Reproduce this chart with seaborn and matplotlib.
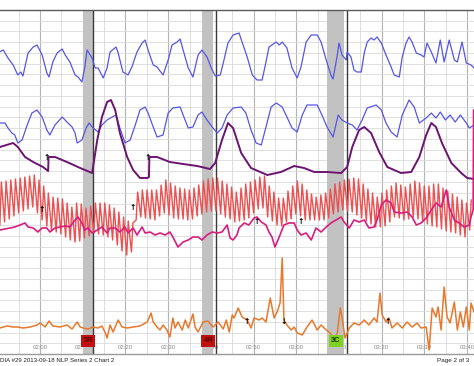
import numpy as np
import pandas as pd
import matplotlib
matplotlib.use("Agg")
import matplotlib.pyplot as plt
from matplotlib.ticker import MultipleLocator, FuncFormatter
import seaborn as sns

plt.rcParams['font.family'] = ['Liberation Sans', 'DejaVu Sans']

# ---------------- data (time in s, channel level in chart units, top = 10, bottom = 354) -------------
pneumo_up_t = [110.6, 111.4, 112.5, 113.7, 114.8, 115.5, 116.0, 117.2, 118.4, 119.3, 120.5, 121.6, 122.1, 123.0,
               124.0, 125.2, 125.9, 127.0, 128.2, 128.9, 129.8, 130.5, 131.0, 132.2, 132.9, 133.6, 134.8, 135.7,
               136.4, 137.8, 138.3, 139.4, 140.6, 141.5, 142.7, 143.9, 144.6, 145.3, 146.5, 147.4, 148.8, 150.0,
               150.9, 152.1, 152.8, 153.5, 154.7, 155.8, 157.0, 157.9, 159.1, 160.0, 161.0, 162.2, 162.9, 164.0,
               165.2, 166.6, 167.3, 168.5, 169.7, 170.8, 172.0, 172.9, 173.6, 175.3, 176.0, 176.7, 177.8, 179.0,
               180.2, 181.1, 182.3, 183.5, 184.9, 185.8, 187.0, 188.1, 188.6, 189.6, 190.0, 190.7, 191.7, 191.9,
               192.8, 193.5, 194.2, 195.2, 195.9, 196.6, 197.5, 198.2, 198.9, 199.9, 201.0, 202.2, 202.9, 204.1,
               204.8, 205.7, 206.4, 207.1, 208.1, 209.2, 209.9, 210.6, 211.6, 212.7, 213.7, 214.6, 215.8, 217.0,
               217.7, 218.8, 219.8, 220.9, 221.6]
pneumo_up_v = [51.7, 50, 58, 65, 75, 72, 76, 53, 47, 45, 55, 73, 77, 62,
               53, 49, 55, 62, 75, 77, 82, 67, 50, 58, 68, 68, 78, 68,
               52, 47, 53, 72, 75, 67, 52, 43, 40, 50, 65, 67, 75, 60,
               45, 42, 39, 50, 68, 77, 55, 50, 57, 67, 76, 75, 63, 43,
               35, 33, 42, 57, 75, 80, 80, 62, 47, 42, 45, 42, 48, 68,
               78, 67, 42, 35, 35, 42, 60, 75, 79, 55, 43, 55, 60, 52,
               57, 70, 72, 72, 53, 42, 38, 40, 37, 43, 55, 67, 75, 77,
               57, 43, 37, 42, 53, 55, 57, 43, 52, 63, 40, 62, 40, 60,
               62, 42, 63, 65, 68]

pneumo_lo_t = [110.6, 111.8, 112.5, 113.4, 114.1, 114.8, 115.8, 117.0, 118.1, 119.3, 120.5, 121.6, 122.3, 123.5,
               125.2, 126.3, 127.5, 128.2, 128.7, 129.8, 130.8, 131.5, 132.4, 133.6, 134.5, 135.7, 136.9, 137.8,
               138.7, 139.9, 141.1, 142.3, 143.4, 144.6, 145.3, 146.5, 147.4, 148.8, 150.0, 151.1, 152.8, 153.5,
               154.7, 155.8, 157.0, 157.9, 159.1, 160.3, 161.5, 162.6, 163.8, 165.2, 167.1, 168.2, 169.4, 170.6,
               171.8, 172.9, 174.1, 175.3, 176.7, 177.8, 179.0, 180.2, 181.4, 182.5, 184.9, 186.0, 187.2, 188.6,
               189.8, 190.7, 191.9, 193.1, 194.2, 195.4, 196.6, 198.7, 199.9, 201.0, 202.2, 203.6, 204.8, 206.4,
               207.6, 208.8, 210.4, 211.6, 212.7, 213.7, 214.9, 216.0, 217.2, 218.4, 219.8, 220.5, 221.6]
pneumo_lo_v = [123, 123, 128, 133, 135, 143, 140, 125, 113, 110, 117, 130, 135, 125,
               117, 122, 127, 133, 143, 140, 128, 123, 128, 132, 125, 120, 117, 115,
               128, 143, 140, 125, 110, 107, 113, 127, 137, 135, 113, 108, 107, 115,
               128, 127, 115, 112, 120, 127, 133, 128, 115, 108, 107, 113, 130, 143,
               145, 127, 107, 103, 107, 117, 128, 132, 115, 105, 105, 115, 127, 137,
               115, 120, 123, 125, 130, 120, 108, 105, 110, 123, 132, 137, 115, 100,
               107, 123, 118, 113, 118, 112, 120, 115, 122, 115, 123, 128, 125]

eda_t = [110.6, 113.7, 114.8, 116.5, 118.4, 120.7, 121.9, 122.0, 123.5, 126.3, 129.4, 132.2, 133.4, 134.5,
         135.7, 136.6, 137.6, 138.7, 140.4, 141.8, 143.4, 145.1, 145.5, 145.6, 147.4, 150.4, 153.5, 156.8,
         159.8, 161.0, 162.6, 164.0, 165.2, 167.1, 169.4, 173.2, 176.4, 179.5, 181.8, 184.2, 187.2, 190.5,
         191.9, 193.1, 194.7, 195.9, 197.5, 199.4, 201.3, 204.5, 206.9, 208.8, 210.4, 211.6, 212.7, 214.1,
         216.3, 218.6, 220.0, 221.6]
eda_v = [147, 143, 147, 157, 162, 167, 171, 157, 157, 162, 168, 173, 140, 117,
         102, 100, 110, 133, 157, 170, 178, 178, 177, 157, 157, 162, 164, 166,
         169, 163, 140, 123, 128, 153, 168, 175, 172, 166, 168, 172, 172, 173,
         167, 147, 130, 127, 133, 152, 167, 173, 172, 157, 135, 123, 127, 143,
         163, 173, 178, 179]

# cardio: one diastolic / systolic pair per beat
beat_start = 110.6
beat_period = 1.1
cardio_sys = [182, 181, 180, 179, 178, 177, 176, 175, 180, 186, 193, 197, 198, 199, 203, 207, 203, 204, 208, 206,
              203, 203, 203, 205, 208, 212, 217, 221, 223, 192, 190, 190, 190, 190, 185, 180, 183, 186, 188, 189,
              190, 188, 185, 181, 179, 178, 178, 181, 184, 187, 192, 188, 184, 182, 180, 177, 176, 186, 192, 198,
              198, 191, 186, 181, 184, 190, 194, 197, 195, 193, 189, 184, 182, 180, 179, 178, 179, 184, 189, 193,
              197, 193, 190, 186, 183, 185, 187, 184, 181, 183, 186, 186, 184, 184, 188, 191, 194, 197, 200, 203, 200]
cardio_dia = [225, 222, 219, 216, 213, 211, 209, 207, 213, 220, 226, 231, 232, 234, 237, 240, 242, 241, 238, 236,
              233, 234, 235, 237, 240, 245, 251, 255, 252, 220, 217, 218, 219, 220, 216, 213, 215, 218, 219, 219,
              220, 219, 216, 214, 212, 211, 211, 214, 217, 219, 222, 221, 220, 218, 213, 209, 208, 217, 221, 225,
              226, 222, 219, 214, 216, 220, 220, 220, 220, 220, 218, 214, 212, 210, 211, 212, 215, 218, 221, 224,
              227, 227, 226, 222, 217, 218, 220, 219, 217, 219, 222, 224, 226, 227, 229, 231, 232, 233, 235, 237, 230]

pink_t = [110.6, 111.8, 113.0, 114.1, 115.3, 116.5, 117.2, 118.4, 119.5, 120.5, 121.6, 122.3, 123.5, 124.7,
          125.9, 127.0, 128.2, 128.9, 129.8, 130.5, 131.2, 132.2, 133.4, 134.5, 135.7, 136.4, 137.6, 138.7,
          139.9, 140.6, 141.8, 142.7, 143.9, 144.6, 145.8, 146.9, 148.1, 149.3, 150.4, 151.1, 152.3, 153.5,
          154.7, 155.8, 157.0, 157.9, 159.1, 160.3, 161.5, 162.6, 163.8, 164.5, 165.2, 166.1, 166.6, 167.8,
          168.9, 170.1, 170.8, 171.8, 172.9, 173.6, 174.3, 175.0, 176.0, 177.1, 178.3, 179.5, 180.2, 181.1,
          182.3, 183.5, 184.6, 185.8, 187.0, 188.1, 189.3, 190.5, 191.2, 192.4, 193.5, 194.7, 195.9, 197.0,
          198.2, 198.9, 199.9, 201.0, 202.2, 202.9, 204.5, 206.0, 207.1, 208.1, 209.2, 210.4, 211.6, 212.7,
          213.9, 215.1, 215.8, 217.0, 218.1, 219.3, 220.5, 220.9, 221.4, 221.5, 221.6]
pink_v = [230, 229, 228, 227, 225, 223, 227, 228, 232, 228, 228, 232, 228, 227,
          226, 227, 220, 217, 223, 230, 228, 233, 230, 227, 233, 228, 228, 232,
          227, 233, 228, 235, 227, 233, 232, 235, 233, 235, 232, 237, 247, 242,
          240, 237, 237, 240, 235, 232, 233, 232, 225, 238, 240, 235, 228, 223,
          225, 218, 217, 222, 225, 232, 237, 247, 237, 225, 223, 223, 230, 235,
          233, 240, 228, 232, 227, 223, 220, 217, 222, 228, 220, 222, 220, 228,
          227, 220, 205, 200, 203, 212, 213, 212, 217, 225, 223, 218, 210, 203,
          207, 190, 207, 220, 223, 227, 225, 217, 210, 110, 110]

orange_t = [110.6, 112.3, 113.7, 114.8, 116.0, 117.7, 119.3, 120.0, 121.2, 122.1, 123.0, 124.7, 126.3, 127.5,
            128.7, 129.4, 130.1, 131.2, 132.4, 133.6, 134.5, 135.2, 135.7, 136.4, 137.1, 138.3, 139.2, 140.4,
            141.8, 143.4, 145.1, 146.0, 146.5, 147.4, 148.1, 148.8, 149.7, 150.4, 151.1, 151.6, 152.3, 153.3,
            154.0, 154.7, 155.8, 156.3, 157.0, 158.2, 159.3, 160.5, 161.7, 162.9, 163.6, 164.3, 165.0, 165.4,
            166.4, 167.3, 168.5, 169.4, 170.1, 171.3, 172.0, 172.9, 173.9, 174.8, 175.5, 176.2, 176.7, 177.1,
            177.8, 178.8, 179.5, 180.2, 181.4, 182.5, 183.7, 184.9, 185.8, 187.0, 187.9, 188.9, 189.6, 190.3,
            190.7, 191.4, 192.4, 193.5, 194.7, 195.9, 197.0, 198.2, 198.9, 199.6, 200.1, 201.0, 201.7, 202.4,
            203.6, 204.8, 205.9, 207.1, 208.3, 209.2, 210.4, 211.1, 211.8, 212.7, 213.2, 213.9, 214.6, 215.3,
            216.0, 217.0, 217.7, 218.4, 219.1, 219.8, 220.5, 220.9, 221.6]
orange_v = [328, 326, 327, 327, 328, 327, 325, 323, 327, 321, 326, 327, 325, 329,
            322, 327, 328, 329, 327, 328, 326, 332, 338, 325, 332, 320, 327, 328,
            327, 326, 322, 313, 322, 327, 330, 325, 330, 337, 318, 328, 322, 330,
            320, 328, 314, 327, 332, 322, 321, 327, 322, 329, 320, 332, 315, 318,
            308, 317, 320, 328, 318, 320, 318, 322, 298, 318, 312, 303, 258, 320,
            325, 330, 327, 333, 335, 327, 320, 330, 325, 330, 333, 338, 333, 308,
            317, 338, 328, 323, 325, 320, 325, 318, 322, 293, 315, 322, 318, 328,
            323, 328, 322, 327, 323, 328, 327, 350, 308, 317, 307, 330, 287, 317,
            323, 302, 330, 312, 327, 307, 330, 303, 312]

# question zones (start, end), answer lines, labels
zone_start = [130.0, 158.0, 187.1]
zone_end = [132.3, 160.6, 191.1]
answer_t = [132.4, 161.2, 191.9]
zone_labels = ["5R", "4R", "3C"]
zone_label_colors = ["#c0110f", "#c0110f", "#7ed321"]
zone_text_colors = ["#5a0000", "#5a0000", "#1a3300"]

# annotation arrows (time, level, symbol)
arrow_t = [121.6, 145.2, 120.5, 141.8, 170.8, 181.1, 168.5, 177.1, 201.3]
arrow_v = [158, 158, 209, 208, 222, 222, 321, 322, 321]
arrow_s = ["↑", "↑", "↑", "↑", "↑", "↑", "↑", "↓", "↑"]

x_min, x_max = 110.63, 221.6
y_top, y_bot = 10, 354

# ---------------- figure ----------------
fig = plt.figure(figsize=(4.74, 3.66), dpi=100)
ax = fig.add_axes([0, 12 / 366, 1, 344 / 366])
ax.set_facecolor("white")

ax.set_xlim(x_min, x_max)
ax.set_ylim(y_bot, y_top)
ax.xaxis.set_major_locator(MultipleLocator(10))
ax.xaxis.set_minor_locator(MultipleLocator(5))
ax.set_yticks(np.linspace(y_top, y_bot, 33))
ax.yaxis.set_ticklabels([])
ax.tick_params(axis='y', length=0)
ax.grid(axis='y', color="#dadada", lw=0.6, zorder=0)
ax.grid(axis='x', which='major', color="#b4b4b4", lw=0.8, zorder=0)
ax.grid(axis='x', which='minor', color="#d8d8d8", lw=0.6, zorder=0)
ax.set_axisbelow(True)
ax.xaxis.set_major_formatter(FuncFormatter(lambda v, p: f"{int(round(v)) // 60:02d}:{int(round(v)) % 60:02d}"))
ax.tick_params(axis='x', which='both', direction='in', length=0, pad=-6.5, labelsize=4.3,
               labelcolor="#8a8a8a")
for s in ["left", "right"]:
    ax.spines[s].set_visible(False)
ax.spines["top"].set_color("#5a5a5a")
ax.spines["top"].set_linewidth(1.0)
ax.spines["bottom"].set_color("#9a9a9a")
ax.spines["bottom"].set_linewidth(1.0)

# question zones
for s0, s1, a in zip(zone_start, zone_end, answer_t):
    ax.axvspan(s0, s1, color="#c2c2c2", lw=0, zorder=1)
    ax.axvline(a, color="#3a3a3a", lw=1.0, zorder=1.5)

# traces
sns.lineplot(x=pneumo_up_t, y=pneumo_up_v, ax=ax, color="#5656e6", lw=0.9, zorder=3)
sns.lineplot(x=pneumo_lo_t, y=pneumo_lo_v, ax=ax, color="#5656e6", lw=0.9, zorder=3)
sns.lineplot(x=eda_t, y=eda_v, ax=ax, color="#6b1470", lw=1.4, zorder=3)

n_beats = len(cardio_sys)
beat_t = beat_start + beat_period * np.arange(n_beats)
cardio_t = np.column_stack([beat_t, beat_t + 0.35]).ravel()
cardio_v = np.column_stack([cardio_dia, cardio_sys]).ravel()
sns.lineplot(x=cardio_t, y=cardio_v, ax=ax, color="#ec5050", lw=1.0, zorder=3, sort=False)
sns.lineplot(x=pink_t, y=pink_v, ax=ax, color="#d81e7d", lw=1.2, zorder=4, sort=False)
sns.lineplot(x=orange_t, y=orange_v, ax=ax, color="#e8782c", lw=1.1, zorder=3, sort=False)

for t, v, s in zip(arrow_t, arrow_v, arrow_s):
    ax.text(t, v, s, ha="center", va="center", fontsize=5.5, fontweight="bold", color="black",
            family="DejaVu Sans", zorder=6)

# zone labels at bottom
for s0, s1, lab, fc, tc in zip(zone_start, zone_end, zone_labels, zone_label_colors, zone_text_colors):
    ax.text((s0 + s1) / 2 + 0.1, 341, lab, ha="center", va="center", fontsize=5.3, fontweight="bold",
            color=tc, zorder=7,
            bbox=dict(boxstyle="square,pad=0.3", fc=fc, ec="none"))

# footer
fig.text(0.0, 1 - 360.7 / 366, "DIA #29 2013-09-18 NLP Series 2 Chart 2", ha="left", va="center",
         fontsize=4.4, color="#222222")
fig.text(469 / 474, 1 - 360.7 / 366, "Page 2 of 3", ha="right", va="center", fontsize=4.6, color="#222222")

fig.savefig("out.png", dpi=100)
